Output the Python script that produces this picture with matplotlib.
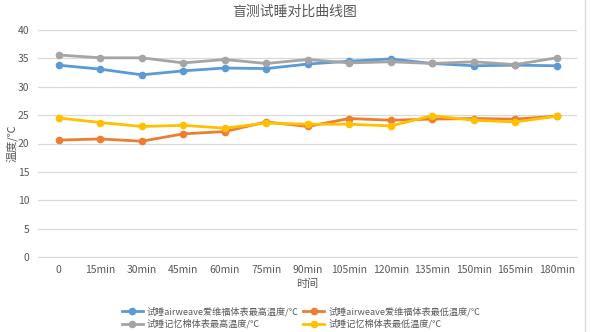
import matplotlib
matplotlib.use("Agg")
import matplotlib.pyplot as plt

plt.rcParams['font.family'] = ['Noto Sans CJK SC', 'DejaVu Sans']

categories = ["0", "15min", "30min", "45min", "60min", "75min", "90min",
              "105min", "120min", "135min", "150min", "165min", "180min"]
airweave_max = [33.8, 33.1, 32.1, 32.8, 33.3, 33.2, 34.0, 34.5, 34.9, 34.1, 33.7, 33.8, 33.7]
airweave_min = [20.6, 20.8, 20.4, 21.7, 22.1, 23.8, 23.0, 24.4, 24.1, 24.3, 24.4, 24.3, 24.8]
foam_max = [35.6, 35.1, 35.1, 34.2, 34.8, 34.1, 34.8, 34.2, 34.4, 34.1, 34.4, 33.9, 35.1]
foam_min = [24.5, 23.7, 23.0, 23.2, 22.7, 23.6, 23.4, 23.4, 23.1, 24.9, 24.1, 23.8, 24.8]
y_ticks = [0, 5, 10, 15, 20, 25, 30, 35, 40]

series = [
    ("试睡airweave爱维福体表最高温度/℃", airweave_max, "#5B9BD5"),
    ("试睡airweave爱维福体表最低温度/℃", airweave_min, "#ED7D31"),
    ("试睡记忆棉体表最高温度/℃", foam_max, "#A5A5A5"),
    ("试睡记忆棉体表最低温度/℃", foam_min, "#FFC000"),
]

fig = plt.figure(figsize=(5.9, 3.32), dpi=100)
ax = fig.add_axes([38 / 590, 1 - 257 / 332, (577.4 - 38) / 590, (257 - 30) / 332])

x = list(range(len(categories)))
handles = []
for label, vals, color in series:
    h, = ax.plot(x, vals, color=color, lw=2, marker="o", ms=4.5,
                 markeredgecolor=color, label=label, zorder=3)
    handles.append(h)

ax.set_xlim(-0.5, len(categories) - 0.5)
ax.set_ylim(0, 40)
ax.set_yticks(y_ticks)
ax.set_xticks(x)
ax.set_xticklabels(categories)
ax.grid(axis="y", color="#D9D9D9", lw=0.9)
ax.set_axisbelow(True)
for s in ["top", "right", "left"]:
    ax.spines[s].set_visible(False)
ax.spines["bottom"].set_color("#D9D9D9")
ax.tick_params(axis="both", length=0, labelsize=7.5, colors="#595959", pad=6)

ax.set_ylabel("温度/℃", fontsize=8, color="#595959", labelpad=0)
ax.set_xlabel("时间", fontsize=8, color="#595959", labelpad=2)
fig.suptitle("盲测试睡对比曲线图", fontsize=10, color="#595959", y=0.985)

# legend filled column-wise, so reorder to read row by row
order = [0, 2, 1, 3]
fig.legend(handles=[handles[i] for i in order], loc="lower center",
           bbox_to_anchor=(0.51, -0.015), ncol=2, frameon=False, fontsize=6.6,
           labelcolor="#595959", handlelength=2.3, columnspacing=0.5,
           handletextpad=0.45, labelspacing=0.3)

fig.add_artist(plt.Line2D([585 / 590, 585 / 590], [0, 1], color="#D9D9D9", lw=1))

fig.savefig("out.png", dpi=100, facecolor="white")
